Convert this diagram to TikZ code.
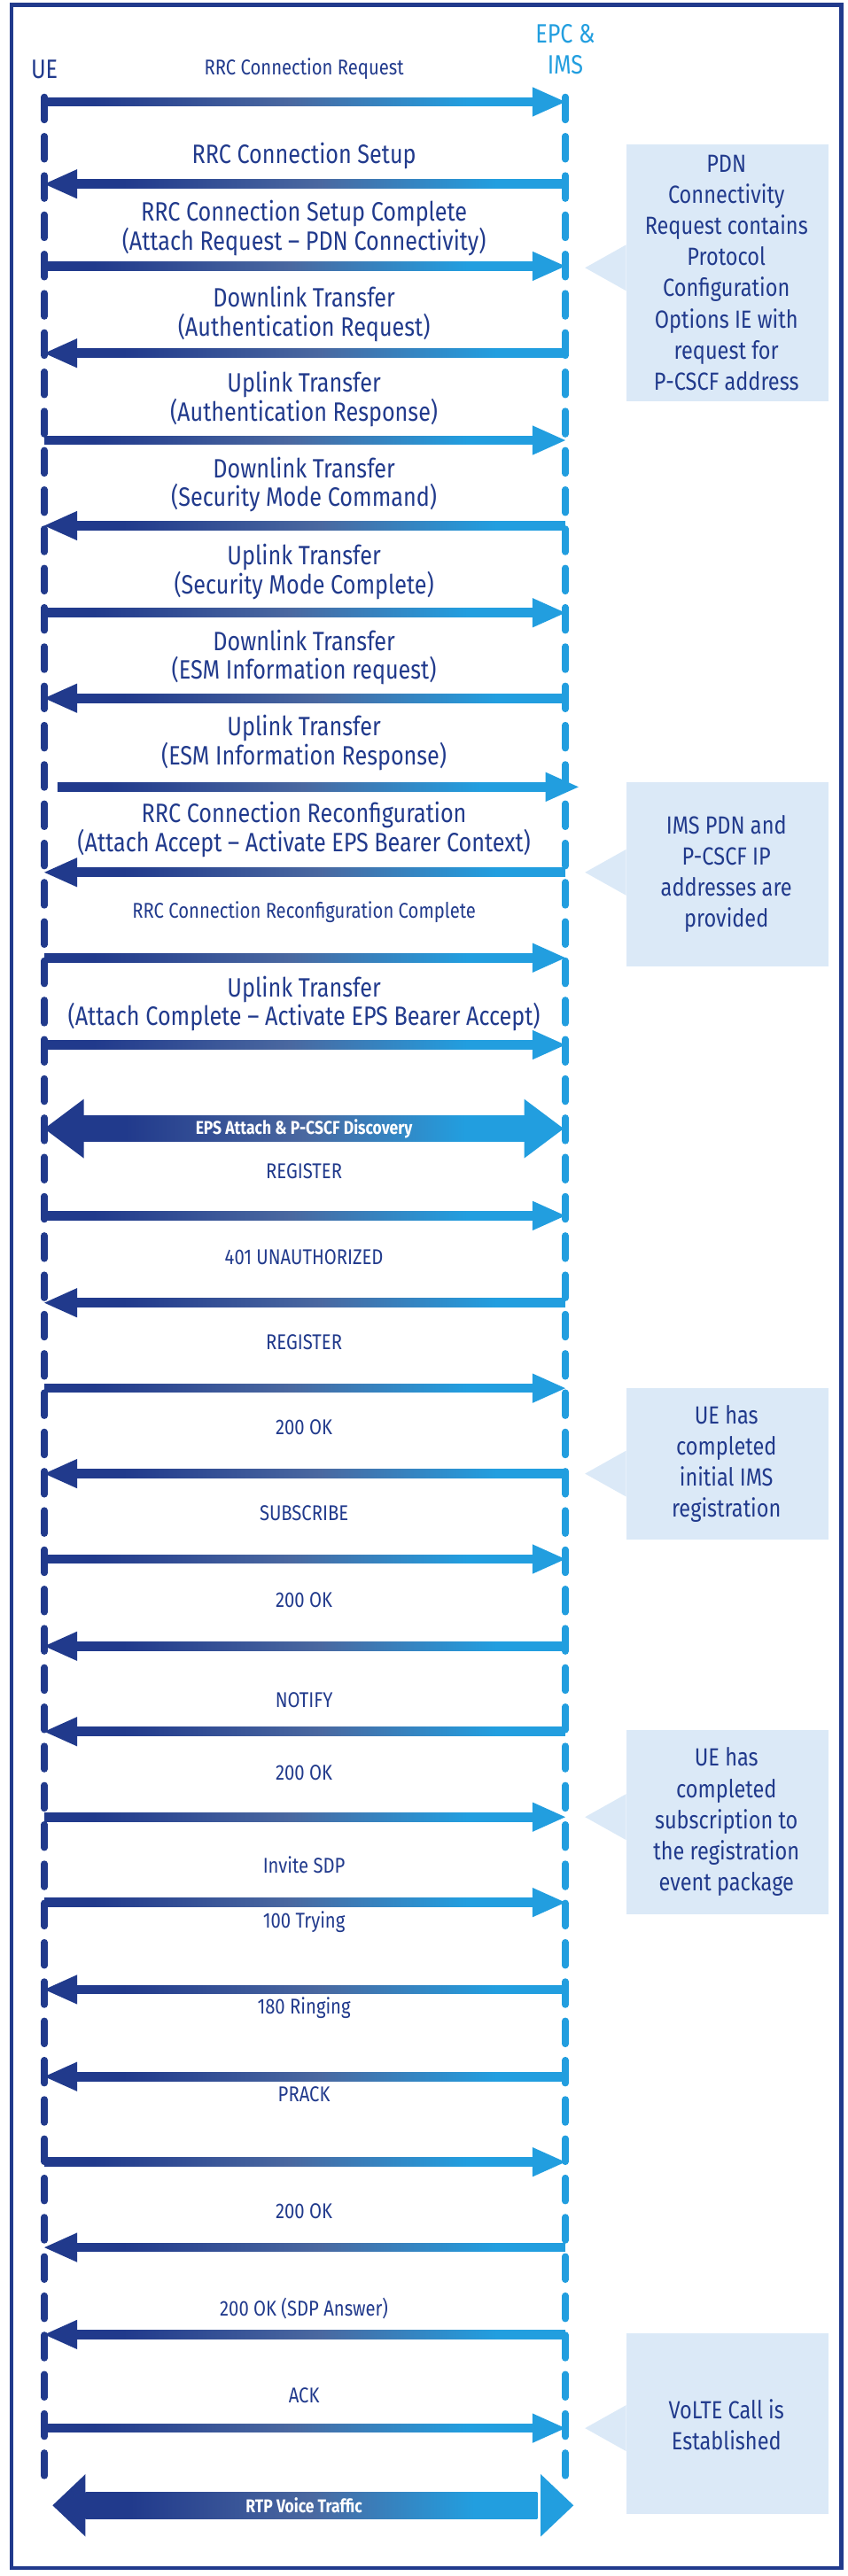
\documentclass[tikz,border=0pt]{standalone}
\usepackage{fontspec}
\setmainfont{Fira Sans}[FakeStretch=0.84]
\usetikzlibrary{calc}

\definecolor{navy}{HTML}{213A8C}
\definecolor{sky}{HTML}{229EDF}
\definecolor{midblue}{HTML}{4A68A0}
\definecolor{note}{HTML}{DBE9F7}
\pgfdeclarehorizontalshading{msg}{100bp}{color(0bp)=(navy); color(30bp)=(navy); color(50bp)=(midblue); color(68bp)=(sky); color(100bp)=(sky)}

\tikzset{
  big/.style={text=navy, align=center, font=\fontsize{23}{25}\selectfont},
  small/.style={text=navy, align=center, font=\fontsize{18.5}{21}\selectfont},
  notetext/.style={text=navy, align=center, font=\fontsize{21.5}{27}\selectfont},
  fat/.style={text=white, font=\bfseries\fontsize{16}{18}\selectfont}
}

% message to the right / to the left
\newcommand\sigR[2]{%
  \coordinate (#2a) at (27,#1); \coordinate (#2b) at (344,#1);
  \shade[shading=msg] ($(#2a)+(0,-2.6)$) rectangle ($(#2b)+(-18,2.6)$);
  \fill[sky] ($(#2b)+(-20,-9)$) -- (#2b) -- ($(#2b)+(-20,9)$) -- cycle;}
\newcommand\sigL[2]{%
  \coordinate (#2a) at (27,#1); \coordinate (#2b) at (344,#1);
  \shade[shading=msg] ($(#2a)+(18,-2.6)$) rectangle ($(#2b)+(0,2.6)$);
  \fill[navy] ($(#2a)+(20,-9)$) -- (#2a) -- ($(#2a)+(20,9)$) -- cycle;}
% callout box
\newcommand\callout[4]{%
  \coordinate (#4tip) at (356,#3);
  \fill[note] (381,#1) rectangle (504,#2);
  \fill[note] (#4tip) -- (381,#3-14) -- (381,#3+14) -- cycle;}

\begin{document}
\begin{tikzpicture}[x=0.5mm, y=-0.5mm]
\useasboundingbox (0,0) rectangle (516,1568);
\draw[navy, line width=1.2mm] (7,3) rectangle (512,1563);

% lifelines
\coordinate (ueTop) at (27,59);
\coordinate (ueBot) at (27,1515);
\coordinate (epcTop) at (344,59);
\coordinate (epcBot) at (344,1515);
\draw[navy, line width=2mm, line cap=round, dash pattern=on 20 off 14] (ueTop) -- (ueBot);
\draw[sky, line width=2mm, line cap=round, dash pattern=on 20 off 14] (epcTop) -- (epcBot);

\node[text=navy, font=\fontsize{23}{25}\selectfont] (ue) at (27,42) {UE};
\node[text=sky, align=center, font=\fontsize{23}{27}\selectfont] (epc) at (344,30) {EPC \&\\IMS};

% callouts
\callout{88}{244}{163}{c1}
\node[notetext] (n1) at (442,166) {PDN\\Connectivity\\Request contains\\Protocol\\Configuration\\Options IE with\\request for\\P-CSCF address};
\callout{476}{588}{531}{c2}
\node[notetext] (n2) at (442,532) {IMS PDN and\\P-CSCF IP\\addresses are\\provided};
\callout{845}{937}{897}{c3}
\node[notetext] (n3) at (442,891) {UE has\\completed\\initial IMS\\registration};
\callout{1053}{1165}{1106}{c4}
\node[notetext] (n4) at (442,1109) {UE has\\completed\\subscription to\\the registration\\event package};
\callout{1420}{1530}{1478}{c5}
\node[notetext] (n5) at (442,1476) {VoLTE Call is\\Established};

% attach
\node[small] (m1) at (185,42) {RRC Connection Request};
\sigR{62}{s1}
\node[big] (m2) at (185,95) {RRC Connection Setup};
\sigL{112}{s2}
\node[big] (m3) at (185,139) {RRC Connection Setup Complete\\(Attach Request -- PDN Connectivity)};
\sigR{162}{s3}
\node[big] (m4) at (185,191) {Downlink Transfer\\(Authentication Request)};
\sigL{215}{s4}
\node[big] (m5) at (185,243) {Uplink Transfer\\(Authentication Response)};
\sigR{268}{s5}
\node[big] (m6) at (185,295) {Downlink Transfer\\(Security Mode Command)};
\sigL{320}{s6}
\node[big] (m7) at (185,348) {Uplink Transfer\\(Security Mode Complete)};
\sigR{373}{s7}
\node[big] (m8) at (185,400) {Downlink Transfer\\(ESM Information request)};
\sigL{425}{s8}
\node[big] (m9) at (185,452) {Uplink Transfer\\(ESM Information Response)};
\coordinate (s9a) at (35,479); \coordinate (s9b) at (352,479);
\shade[shading=msg] ($(s9a)+(0,-2.6)$) rectangle ($(s9b)+(-18,2.6)$);
\fill[sky] ($(s9b)+(-20,-9)$) -- (s9b) -- ($(s9b)+(-20,9)$) -- cycle;
\node[big] (m10) at (185,505) {RRC Connection Reconfiguration\\(Attach Accept -- Activate EPS Bearer Context)};
\sigL{531}{s10}
\node[small] (m11) at (185,555) {RRC Connection Reconfiguration Complete};
\sigR{583}{s11}
\node[big] (m12) at (185,611) {Uplink Transfer\\(Attach Complete -- Activate EPS Bearer Accept)};
\sigR{636}{s12}

% EPS attach
\coordinate (epsA) at (27,687); \coordinate (epsB) at (343,687);
\shade[shading=msg] ($(epsA)+(22,-8)$) rectangle ($(epsB)+(-22,8)$);
\fill[navy] ($(epsA)+(24,-18)$) -- (epsA) -- ($(epsA)+(24,18)$) -- cycle;
\fill[sky] ($(epsB)+(-24,-18)$) -- (epsB) -- ($(epsB)+(-24,18)$) -- cycle;
\node[fat] (eps) at (185,687) {EPS Attach \& P-CSCF Discovery};

% IMS registration
\node[small] (r1) at (185,713) {REGISTER};
\sigR{740}{t1}
\node[small] (r2) at (185,765) {401 UNAUTHORIZED};
\sigL{793}{t2}
\node[small] (r3) at (185,817) {REGISTER};
\sigR{845}{t3}
\node[small] (r4) at (185,869) {200 OK};
\sigL{897}{t4}
\node[small] (r5) at (185,921) {SUBSCRIBE};
\sigR{949}{t5}
\node[small] (r6) at (185,974) {200 OK};
\sigL{1002}{t6}
\node[small] (r7) at (185,1035) {NOTIFY};
\sigL{1054}{t7}
\node[small] (r8) at (185,1079) {200 OK};
\sigR{1106}{t8}

% call setup
\node[small] (v1) at (185,1135) {Invite SDP};
\sigR{1158}{u1}
\node[small] (v2) at (185,1170) {100 Trying};
\sigL{1211}{u2}
\node[small] (v3) at (185,1222) {180 Ringing};
\sigL{1264}{u3}
\node[small] (v4) at (185,1275) {PRACK};
\sigR{1316}{u4}
\node[small] (v5) at (185,1346) {200 OK};
\sigL{1368}{u5}
\node[small] (v6) at (185,1405) {200 OK (SDP Answer)};
\sigL{1421}{u6}
\node[small] (v7) at (185,1458) {ACK};
\sigR{1478}{u7}

% RTP
\coordinate (rtpA) at (32,1525); \coordinate (rtpB) at (349,1525);
\shade[shading=msg] ($(rtpA)+(20,-8)$) rectangle ($(rtpB)+(-22,8)$);
\fill[navy] ($(rtpA)+(20,-19)$) -- (rtpA) -- ($(rtpA)+(20,19)$) -- cycle;
\fill[sky] ($(rtpB)+(-20,-19)$) -- (rtpB) -- ($(rtpB)+(-20,19)$) -- cycle;
\node[fat] (rtp) at (185,1525) {RTP Voice Traffic};
\end{tikzpicture}
\end{document}
